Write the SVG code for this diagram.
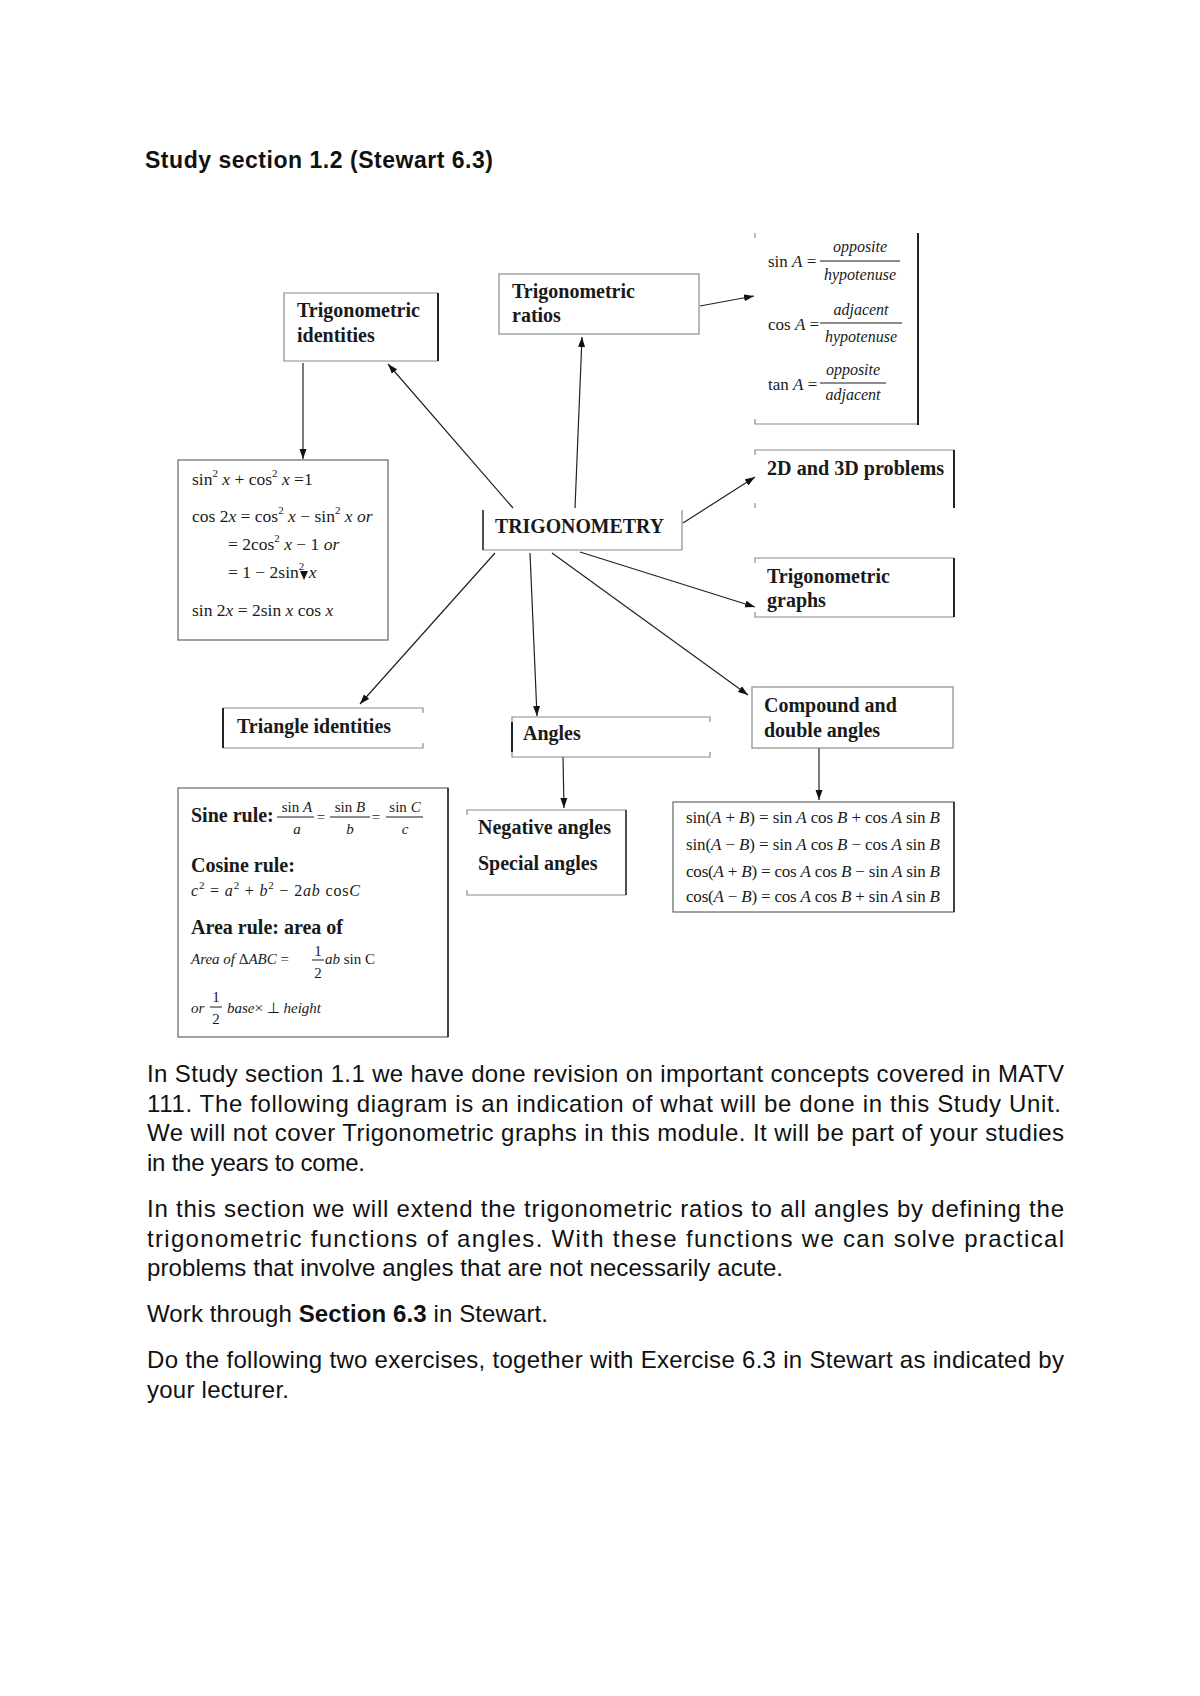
<svg xmlns="http://www.w3.org/2000/svg" width="1200" height="1696" viewBox="0 0 1200 1696">
<style>
.bg{fill:#fff}
.lt{fill:none;stroke:#8a8a8a;stroke-width:1.2}
.dk{fill:none;stroke:#222;stroke-width:2}
.lbl{font-family:"Liberation Serif","Times New Roman",serif;font-weight:bold;font-size:20px;fill:#1a1a1a}
.f{font-family:"Liberation Serif","Times New Roman",serif;font-size:16px;fill:#1a1a1a}
.f17b{font-family:"Liberation Serif","Times New Roman",serif;font-size:17px;fill:#1a1a1a}
.f15{font-family:"Liberation Serif","Times New Roman",serif;font-size:15px;fill:#1a1a1a}
.f14{font-family:"Liberation Serif","Times New Roman",serif;font-size:15px;fill:#1a1a1a}
.f17{font-family:"Liberation Serif","Times New Roman",serif;font-size:17.5px;fill:#1a1a1a}
.it{font-style:italic}
.sup{font-size:11px}
.bar{stroke:#1a1a1a;stroke-width:1}
.p{font-family:"Liberation Sans",Arial,sans-serif;font-size:24px;fill:#111}
.h{font-family:"Liberation Sans",Arial,sans-serif;font-size:23px;font-weight:bold;fill:#111}
.c{fill:none;stroke:#222;stroke-width:1.2}
</style>
<defs>
<marker id="ah" markerUnits="userSpaceOnUse" markerWidth="10" markerHeight="8" refX="10" refY="4" orient="auto">
<path d="M0,0.5 L10,4 L0,7.5 z" fill="#111"/>
</marker>
</defs>
<rect class="bg" x="0" y="0" width="1200" height="1696"/>

<text class="h" x="145" y="168" textLength="348" lengthAdjust="spacing">Study section 1.2 (Stewart 6.3)</text>

<g id="connectors">
<line class="c" x1="513" y1="508" x2="388" y2="364" marker-end="url(#ah)"/>
<line class="c" x1="575" y1="508" x2="582" y2="337" marker-end="url(#ah)"/>
<line class="c" x1="700" y1="306" x2="754" y2="296" marker-end="url(#ah)"/>
<line class="c" x1="303" y1="363" x2="303" y2="459" marker-end="url(#ah)"/>
<line class="c" x1="683" y1="523" x2="755" y2="477" marker-end="url(#ah)"/>
<line class="c" x1="580" y1="552" x2="755" y2="607" marker-end="url(#ah)"/>
<line class="c" x1="495" y1="553" x2="360" y2="704" marker-end="url(#ah)"/>
<line class="c" x1="530" y1="553" x2="537" y2="716" marker-end="url(#ah)"/>
<line class="c" x1="552" y1="553" x2="748" y2="695" marker-end="url(#ah)"/>
<line class="c" x1="563" y1="757" x2="564" y2="808" marker-end="url(#ah)"/>
<line class="c" x1="819" y1="748" x2="819" y2="800" marker-end="url(#ah)"/>
<path d="M300,571 L308,571 L304,580 z" fill="#111"/>
</g>

<g id="trig-identities">
<path class="lt" d="M438,293 L284,293 L284,361 L438,361"/>
<path class="dk" d="M438,293 L438,361"/>
<text class="lbl" x="297" y="317">Trigonometric</text>
<text class="lbl" x="297" y="342">identities</text>
</g>

<g id="trig-ratios">
<rect class="lt" x="499" y="274" width="200" height="60"/>
<text class="lbl" x="512" y="298">Trigonometric</text>
<text class="lbl" x="512" y="322">ratios</text>
</g>

<g id="ratio-formulas">
<path class="lt" d="M755,233 L755,238 M755,419 L755,424 L918,424"/>
<path class="dk" d="M918,233 L918,425"/>
<text class="f17b" x="768" y="267">sin <tspan class="it">A</tspan> =</text>
<text class="f it" x="860" y="252" text-anchor="middle">opposite</text>
<line class="bar" x1="820" y1="261" x2="900" y2="261"/>
<text class="f it" x="860" y="280" text-anchor="middle">hypotenuse</text>
<text class="f17b" x="768" y="330">cos <tspan class="it">A</tspan> =</text>
<text class="f it" x="861" y="315" text-anchor="middle">adjacent</text>
<line class="bar" x1="820" y1="323" x2="902" y2="323"/>
<text class="f it" x="861" y="342" text-anchor="middle">hypotenuse</text>
<text class="f17b" x="768" y="390">tan <tspan class="it">A</tspan> =</text>
<text class="f it" x="853" y="375" text-anchor="middle">opposite</text>
<line class="bar" x1="820" y1="383" x2="886" y2="383"/>
<text class="f it" x="853" y="400" text-anchor="middle">adjacent</text>
</g>

<g id="identity-formulas">
<rect class="lt" x="178" y="460" width="210" height="180" style="stroke:#666"/>
<text class="f17" x="192" y="485">sin<tspan class="sup" dy="-8">2</tspan><tspan dy="8"> </tspan><tspan class="it">x</tspan> + cos<tspan class="sup" dy="-8">2</tspan><tspan dy="8"> </tspan><tspan class="it">x</tspan> =1</text>
<text class="f17" x="192" y="522">cos 2<tspan class="it">x</tspan> = cos<tspan class="sup" dy="-8">2</tspan><tspan dy="8"> </tspan><tspan class="it">x</tspan> − sin<tspan class="sup" dy="-8">2</tspan><tspan dy="8"> </tspan><tspan class="it">x or</tspan></text>
<text class="f17" x="228" y="550">= 2cos<tspan class="sup" dy="-8">2</tspan><tspan dy="8"> </tspan><tspan class="it">x</tspan> − 1 <tspan class="it">or</tspan></text>
<text class="f17" x="228" y="578">= 1 − 2sin<tspan class="sup" dy="-8">2</tspan><tspan dy="8"> </tspan><tspan class="it">x</tspan></text>
<text class="f17" x="192" y="616">sin 2<tspan class="it">x</tspan> = 2sin <tspan class="it">x</tspan> cos <tspan class="it">x</tspan></text>
</g>

<g id="trigonometry">
<path class="lt" d="M682,510 L682,550 L483,550"/>
<path class="dk" d="M483,510 L483,550" style="stroke-width:1.6"/>
<text class="lbl" x="495" y="533" textLength="169" lengthAdjust="spacingAndGlyphs">TRIGONOMETRY</text>
</g>

<g id="problems-2d-3d">
<path class="lt" d="M755,455 L755,450 L954,450 M755,503 L755,508"/>
<path class="dk" d="M954,450 L954,508"/>
<text class="lbl" x="767" y="475" textLength="177" lengthAdjust="spacingAndGlyphs">2D and 3D problems</text>
</g>

<g id="trig-graphs">
<path class="lt" d="M755,563 L755,558 L954,558 M755,612 L755,617 L954,617"/>
<path class="dk" d="M954,558 L954,617"/>
<text class="lbl" x="767" y="583">Trigonometric</text>
<text class="lbl" x="767" y="607">graphs</text>
</g>

<g id="triangle-identities">
<path class="lt" d="M423,713 L423,708 L223,708 M223,748 L423,748 L423,743"/>
<path class="dk" d="M223,708 L223,748"/>
<text class="lbl" x="237" y="733" textLength="154" lengthAdjust="spacingAndGlyphs">Triangle identities</text>
</g>

<g id="triangle-formulas">
<rect class="lt" x="178" y="788" width="270" height="249" style="stroke:#666"/>
<path class="dk" d="M448,788 L448,1037" style="stroke-width:1.5"/>
<text class="lbl" x="191" y="822">Sine rule:</text>
<text class="f14" x="297" y="812" text-anchor="middle">sin <tspan class="it">A</tspan></text>
<line class="bar" x1="277" y1="817" x2="314" y2="817"/>
<text class="f14 it" x="297" y="834" text-anchor="middle">a</text>
<text class="f14" x="321" y="822" text-anchor="middle">=</text>
<text class="f14" x="350" y="812" text-anchor="middle">sin <tspan class="it">B</tspan></text>
<line class="bar" x1="330" y1="817" x2="370" y2="817"/>
<text class="f14 it" x="350" y="834" text-anchor="middle">b</text>
<text class="f14" x="376" y="822" text-anchor="middle">=</text>
<text class="f14" x="405" y="812" text-anchor="middle">sin <tspan class="it">C</tspan></text>
<line class="bar" x1="386" y1="817" x2="423" y2="817"/>
<text class="f14 it" x="405" y="834" text-anchor="middle">c</text>
<text class="lbl" x="191" y="872">Cosine rule:</text>
<text class="f" x="191" y="896" textLength="169" lengthAdjust="spacing"><tspan class="it">c</tspan><tspan class="sup" dy="-7">2</tspan><tspan dy="7"> = </tspan><tspan class="it">a</tspan><tspan class="sup" dy="-7">2</tspan><tspan dy="7"> + </tspan><tspan class="it">b</tspan><tspan class="sup" dy="-7">2</tspan><tspan dy="7"> − 2</tspan><tspan class="it">ab</tspan> cos<tspan class="it">C</tspan></text>
<text class="lbl" x="191" y="934">Area rule: area of</text>
<text class="f15" x="191" y="964"><tspan class="it">Area of</tspan> Δ<tspan class="it">ABC</tspan> =</text>
<text class="f15" x="318" y="956" text-anchor="middle">1</text>
<line class="bar" x1="312" y1="960" x2="324" y2="960"/>
<text class="f15" x="318" y="978" text-anchor="middle">2</text>
<text class="f15" x="325" y="964"><tspan class="it">ab</tspan> sin C</text>
<text class="f15 it" x="191" y="1013">or</text>
<text class="f15" x="216" y="1002" text-anchor="middle">1</text>
<line class="bar" x1="210" y1="1007" x2="222" y2="1007"/>
<text class="f15" x="216" y="1024" text-anchor="middle">2</text>
<text class="f15" x="227" y="1013"><tspan class="it">base</tspan>× ⊥ <tspan class="it">height</tspan></text>
</g>

<g id="angles">
<path class="lt" d="M710,722 L710,717 L512,717 L512,757 L710,757 L710,752"/>
<path class="dk" d="M512,722 L512,752"/>
<text class="lbl" x="523" y="740">Angles</text>
</g>

<g id="negative-special">
<path class="lt" d="M467,815 L467,810 L626,810 M467,890 L467,895 L626,895"/>
<path class="dk" d="M626,810 L626,895" style="stroke-width:1.6"/>
<text class="lbl" x="478" y="834" textLength="133" lengthAdjust="spacingAndGlyphs">Negative angles</text>
<text class="lbl" x="478" y="870">Special angles</text>
</g>

<g id="compound-double">
<rect class="lt" x="752" y="687" width="201" height="61"/>
<text class="lbl" x="764" y="712">Compound and</text>
<text class="lbl" x="764" y="737">double angles</text>
</g>

<g id="compound-formulas">
<rect class="lt" x="673" y="802" width="281" height="110" style="stroke:#666"/>
<path class="dk" d="M954,802 L954,912" style="stroke-width:1.5"/>
<text class="f17b" x="686" y="823" textLength="254" lengthAdjust="spacing">sin(<tspan class="it">A</tspan> + <tspan class="it">B</tspan>) = sin <tspan class="it">A</tspan> cos <tspan class="it">B</tspan> + cos <tspan class="it">A</tspan> sin <tspan class="it">B</tspan></text>
<text class="f17b" x="686" y="850" textLength="254" lengthAdjust="spacing">sin(<tspan class="it">A</tspan> − <tspan class="it">B</tspan>) = sin <tspan class="it">A</tspan> cos <tspan class="it">B</tspan> − cos <tspan class="it">A</tspan> sin <tspan class="it">B</tspan></text>
<text class="f17b" x="686" y="877" textLength="254" lengthAdjust="spacing">cos(<tspan class="it">A</tspan> + <tspan class="it">B</tspan>) = cos <tspan class="it">A</tspan> cos <tspan class="it">B</tspan> − sin <tspan class="it">A</tspan> sin <tspan class="it">B</tspan></text>
<text class="f17b" x="686" y="902" textLength="254" lengthAdjust="spacing">cos(<tspan class="it">A</tspan> − <tspan class="it">B</tspan>) = cos <tspan class="it">A</tspan> cos <tspan class="it">B</tspan> + sin <tspan class="it">A</tspan> sin <tspan class="it">B</tspan></text>
</g>

<g id="text-body">
<text class="p" x="147" y="1082" textLength="917" lengthAdjust="spacing">In Study section 1.1 we have done revision on important concepts covered in MATV</text>
<text class="p" x="147" y="1112" textLength="914" lengthAdjust="spacing">111.  The following diagram is an indication of what will be done in this Study Unit.</text>
<text class="p" x="147" y="1141" textLength="917" lengthAdjust="spacing">We will not cover Trigonometric graphs in this module.  It will be part of your studies</text>
<text class="p" x="147" y="1171" textLength="218" lengthAdjust="spacing">in the years to come.</text>
<text class="p" x="147" y="1217" textLength="917" lengthAdjust="spacing">In this section we will extend the trigonometric ratios to all angles by defining the</text>
<text class="p" x="147" y="1247" textLength="917" lengthAdjust="spacing">trigonometric functions of angles.  With these functions we can solve practical</text>
<text class="p" x="147" y="1276" textLength="636" lengthAdjust="spacing">problems that involve angles that are not necessarily acute.</text>
<text class="p" x="147" y="1322" textLength="401" lengthAdjust="spacing">Work through <tspan font-weight="bold">Section 6.3</tspan> in Stewart.</text>
<text class="p" x="147" y="1368" textLength="917" lengthAdjust="spacing">Do the following two exercises, together with Exercise 6.3 in Stewart as indicated by</text>
<text class="p" x="147" y="1398" textLength="142" lengthAdjust="spacing">your lecturer.</text>
</g>
</svg>
